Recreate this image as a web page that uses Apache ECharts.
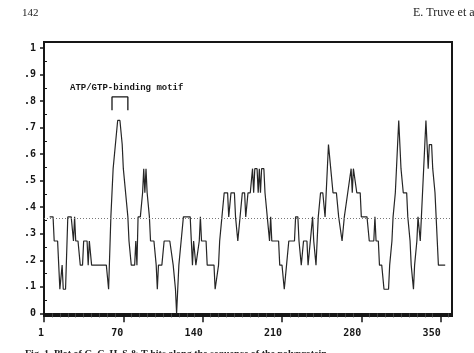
<!DOCTYPE html>
<html>
<head>
<meta charset="utf-8">
<script src="https://cdn.jsdelivr.net/npm/echarts@6/dist/echarts.min.js"></script>
<style>
html,body{margin:0;padding:0;background:#fff;}
#chart{width:474px;height:353px;}
</style>
</head>
<body>
<div id="chart"></div>
<script>
// residue numbers where the profile changes
var residues = [5,8,9,12,13,14,16,17,19,21,24,26,27,28,30,32,34,35,38,39,40,41,42,55,57,59,60,61,63,65,67,69,70,72,74,75,77,80,81,82,83,85,87,88,89,90,91,93,94,97,99,100,101,104,106,111,114,116,117,118,119,121,123,129,130,131,132,134,135,137,138,139,143,144,150,151,152,154,155,157,159,162,163,165,168,169,171,172,173,175,177,178,180,182,184,185,186,188,189,190,191,192,194,195,197,199,200,201,207,208,210,212,213,214,216,221,222,224,225,227,228,229,232,233,235,237,238,240,241,242,244,246,248,249,250,251,253,255,258,260,263,265,268,271,272,273,276,279,280,285,287,291,292,293,295,296,298,300,304,305,307,308,310,311,312,313,314,315,317,320,321,323,324,326,327,329,330,332,333,334,335,336,337,338,339,340,342,343,345,346,347,348,354];
// hits counted in the 11-residue window at those residues
var hits = [4,4,3,3,2,1,2,1,1,4,4,3,4,3,3,2,2,3,3,2,3,3,2,2,1,4,5,6,7,8,8,7,6,5,4,3,2,2,3,2,4,4,5,6,5,6,5,4,3,3,2,1,2,2,3,3,2,1,0,1,2,3,4,4,3,2,3,2,2,3,4,3,3,2,2,1,1,2,3,4,5,5,4,5,5,4,3,3,4,5,5,4,5,5,6,5,6,6,5,6,5,6,6,5,4,3,4,3,3,2,2,1,1,2,3,3,4,4,3,2,2,3,3,2,3,4,3,2,3,4,5,5,4,5,6,7,6,5,5,4,3,4,5,6,5,6,5,5,4,4,3,3,4,3,3,2,2,1,1,2,3,4,5,6,7,8,7,6,5,5,4,3,2,1,2,3,4,3,4,5,6,7,8,7,6,7,7,6,5,4,3,2,2];
var windowSize = 11;
var meanLevel = 0.357;

var xTickValues = [0, 70, 140, 210, 280, 350];
var xMinorValues = [7,14,21,28,35,42,49,56,63,77,84,91,98,105,112,119,126,133,147,154,161,168,175,182,189,196,203,217,224,231,238,245,252,259,266,273,287,294,301,308,315,322,329,336,343,357];
var yTickValues = [0, 0.1, 0.2, 0.3, 0.4, 0.5, 0.6, 0.7, 0.8, 0.9, 1];
var yMinorValues = [0.05, 0.15, 0.25, 0.35, 0.45, 0.55, 0.65, 0.75, 0.85, 0.95];

var motifRange = [60, 74];
var motifLabel = 'ATP/GTP-binding motif';

var profile = residues.map(function (r, i) {
  return [r, hits[i] / windowSize];
});

var ink = '#161616';
var mono = '"DejaVu Sans Mono", monospace';

var chart = echarts.init(document.getElementById('chart'));
chart.setOption({
  animation: false,
  backgroundColor: '#fff',
  grid: {
    left: 44, right: 22, top: 42, bottom: 37,
    show: true, borderColor: ink, borderWidth: 2
  },
  xAxis: [{
    type: 'value', min: 0, max: 360,
    axisLine: { lineStyle: { color: ink, width: 2 } },
    axisTick: { customValues: xTickValues, length: 9, lineStyle: { color: ink, width: 1.5 } },
    axisLabel: {
      customValues: xTickValues, align: 'right', margin: 12,
      color: ink, fontFamily: mono, fontWeight: 'bold', fontSize: 10,
      formatter: function (v) { return v === 0 ? '1' : String(v); }
    },
    splitLine: { show: false }
  }, {
    // short ticks every 7 residues
    type: 'value', min: 0, max: 360, position: 'bottom',
    axisLine: { show: false },
    axisTick: { customValues: xMinorValues, length: 4, lineStyle: { color: '#444', width: 1 } },
    axisLabel: { show: false },
    splitLine: { show: false }
  }],
  yAxis: [{
    type: 'value', min: -0.01, max: 1.023,
    axisLine: { show: true, lineStyle: { color: ink, width: 2 } },
    axisTick: { customValues: yTickValues, length: 4, lineStyle: { color: ink, width: 1.5 } },
    axisLabel: {
      customValues: yTickValues, margin: 8,
      color: ink, fontFamily: mono, fontWeight: 'bold', fontSize: 10,
      formatter: function (v) {
        if (v === 0) return '0';
        if (v === 1) return '1';
        return '.' + Math.round(v * 10);
      }
    },
    splitLine: { show: false }
  }, {
    type: 'value', min: -0.01, max: 1.023, position: 'left',
    axisLine: { show: false },
    axisTick: { customValues: yMinorValues, inside: true, length: 3, lineStyle: { color: ink, width: 1 } },
    axisLabel: { show: false },
    splitLine: { show: false }
  }],
  series: [{
    type: 'line',
    data: profile,
    symbol: 'none',
    lineStyle: { color: '#262626', width: 1.2 },
    markLine: {
      silent: true,
      symbol: 'none',
      label: { show: false },
      lineStyle: { color: '#777', width: 1, type: [1, 2] },
      data: [{ yAxis: meanLevel }]
    }
  }, {
    type: 'line',
    data: [[motifRange[0], 0.766], [motifRange[0], 0.816], [motifRange[1], 0.816], [motifRange[1], 0.766]],
    symbol: 'none',
    lineStyle: { color: ink, width: 1.3 }
  }],
  graphic: [
    { type: 'text', left: 70, top: 83, style: { text: motifLabel, font: 'bold 9px "Liberation Mono", monospace', fill: ink } },
    { type: 'text', left: 22, top: 8, style: { text: '142', font: '11px "Liberation Serif", serif', fill: '#222' } },
    { type: 'text', left: 413, top: 7, style: { text: 'E. Truve et al.', font: '12px "Liberation Serif", serif', fill: '#222' } },
    { type: 'text', left: 25, top: 349, style: { text: 'Fig. 1. Plot of G, C, H, S & T hits along the sequence of the polyprotein', font: 'bold 10px "Liberation Serif", serif', fill: '#222' } }
  ]
});
</script>
</body>
</html>
